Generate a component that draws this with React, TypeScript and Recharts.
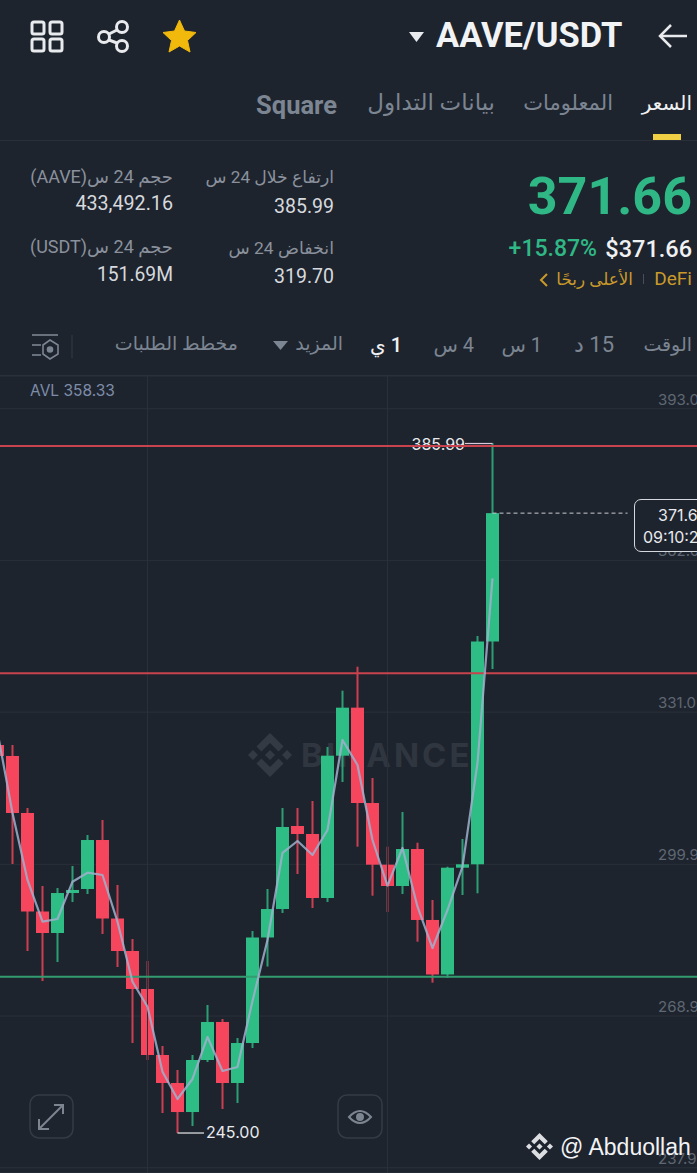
import React from "react";
import { ComposedChart, Bar, Line, XAxis, YAxis, CartesianGrid, ReferenceLine } from "recharts";

const slots = [1,2,3,4,5,6,7,8,9,10,11,12,13,14,15,16,17,18,19,20,21,22,23,24,25,26,27,28,29,30,31,32,33,34,35,36,37,38,39,40,41,42,43,44,45,46,47,48];
const opens = [324.28,322.04,310.39,290.26,285.87,294.04,294.86,304.87,288.83,282.19,274.43,260.94,255.22,249.29,259.92,267.69,255.22,263.39,284.95,290.77,307.73,306.10,293.02,322.10,331.91,312.43,299.83,295.47,303.03,288.53,277.39,299.21,299.91,345.43];
const closes = [322.04,310.39,290.26,285.87,294.04,294.66,304.87,288.83,282.19,274.43,260.94,255.22,249.29,259.92,267.69,255.22,263.39,284.95,290.77,307.53,306.10,293.02,322.10,331.91,312.43,299.83,295.47,303.03,288.53,277.39,299.21,299.91,345.43,371.66];
const highs = [325.31,324.28,311.41,295.47,295.06,299.56,305.89,308.96,295.68,284.64,280.15,262.78,257.88,260.94,271.16,268.30,264.41,286.28,294.86,311.41,311.41,312.84,323.88,335.38,340.28,317.54,303.50,310.59,304.32,292.61,299.42,305.08,346.56,385.99];
const lows = [321.22,299.97,282.19,276.06,279.94,292.20,293.84,285.67,278.92,263.39,259.92,249.09,245.00,246.43,259.51,249.91,251.13,262.37,279.02,289.96,297.93,290.98,292.20,316.72,303.50,293.49,290.16,293.84,284.09,275.72,276.68,293.63,293.98,339.81];
const avl = [326.94,310.39,296.70,288.18,288.73,296.35,298.19,297.72,288.18,275.92,270.81,257.53,251.95,256.04,264.62,257.67,258.49,271.97,284.44,302.22,304.67,301.81,306.92,325.31,320.20,304.87,295.53,303.24,291.24,282.80,290.57,299.42,320.61,358.33];
const axisTicks = [393.0,362.0,331.0,299.9,268.9,237.9];
const resistanceLevels = [385.38,338.93];
const supportLevel = 276.94;
const lastPrice = 371.66;
const dayHigh = 385.99;
const dayLow = 245.00;
const verticalSlots = [11,27];

const rows = slots.map((slot, i) => ({
  slot,
  open: i < opens.length ? opens[i] : null,
  close: i < closes.length ? closes[i] : null,
  high: i < highs.length ? highs[i] : null,
  low: i < lows.length ? lows[i] : null,
  avl: i < avl.length ? avl[i] : null,
}));

const UP = "#2ebd85";
const DOWN = "#f6465d";
const BG = "#1e242e";
const GRID = "#2a303a";

const Candle = (props: any) => {
  const { x, y, width, height, payload } = props;
  if (!payload || payload.open == null) return null;
  const { open, close, high, low } = payload;
  const span = high - low;
  const py = (v: number) => y + ((high - v) / span) * height;
  const up = close >= open;
  const color = up ? UP : DOWN;
  const top = py(Math.max(open, close));
  const bottom = py(Math.min(open, close));
  const cx = x + width / 2;
  return (
    <g>
      <rect x={cx - 1} y={y} width={2} height={height} fill={color} fillOpacity={0.8} />
      <rect x={x} y={top} width={width} height={Math.max(bottom - top, 2)} fill={color} />
      {high === dayHigh && (
        <g>
          <line x1={475} y1={y + 0.5} x2={cx} y2={y + 0.5} stroke="#d9c9dc" strokeWidth={1.2} />
          <text x={475} y={y + 7} textAnchor="end" fontFamily="Inter" fontSize={16} fill="#e8eaed">{dayHigh.toFixed(2)}</text>
        </g>
      )}
      {low === dayLow && (
        <g>
          <line x1={cx} y1={y + height} x2={214} y2={y + height} stroke="#e8eaed" strokeWidth={1.2} />
          <text x={216} y={y + height + 5} textAnchor="start" fontFamily="Inter" fontSize={16} fill="#e8eaed">{dayLow.toFixed(2)}</text>
        </g>
      )}
    </g>
  );
};

const PriceTick = (props: any) => (
  <text x={668} y={props.y - 4} fontFamily="Inter" fontSize={15} fill="#5f6773">{Number(props.payload.value).toFixed(1)}</text>
);

const Txt = ({ r, l, y, size, color, weight, rtl, font, children }: any) => (
  <div
    style={{
      position: "absolute",
      top: y - 20,
      height: 40,
      lineHeight: "40px",
      whiteSpace: "nowrap",
      fontSize: size,
      color,
      fontWeight: weight || 400,
      direction: rtl ? "rtl" : "ltr",
      fontFamily: font || "Roboto, 'DejaVu Sans', sans-serif",
      ...(r != null ? { right: 697 - r } : { left: l }),
    }}
  >
    {children}
  </div>
);

const LOGO = [
  "M38.73 53.2l24.59-24.58 24.6 24.6 14.3-14.31L63.32 0 24.42 38.9l14.31 14.3z",
  "M0 63.31l14.3-14.31 14.31 14.31-14.31 14.3z",
  "M38.73 73.41l24.59 24.59 24.6-24.6 14.31 14.29-38.9 38.91-38.91-38.88-.02-.02 14.33-14.29z",
  "M98 63.31l14.3-14.31 14.31 14.3-14.31 14.32z",
  "M77.83 63.3L63.32 48.78 52.59 59.51l-1.24 1.23-2.54 2.54 14.51 14.52 14.51-14.51z",
];

const Logo = ({ left, top, size, color }: any) => (
  <svg style={{ position: "absolute", left, top }} width={size} height={size} viewBox="0 0 126.61 126.61">
    {LOGO.map((d) => <path key={d} d={d} fill={color} />)}
  </svg>
);

const GRAY = "#7c8592";
const LABEL = "#8a919c";
const VALUE = "#d6d9dd";

export default function App() {
  return (
    <div style={{ position: "absolute", left: 0, top: 0, width: 697, height: 1173, overflow: "hidden", background: BG }}>
      {/* header icons */}
      <svg style={{ position: "absolute", left: 0, top: 0 }} width={697} height={75}>
        <g fill="none" stroke="#e8eaed" strokeWidth={3}>
          <rect x={32} y={22} width={12} height={12} rx={2} />
          <rect x={50} y={22} width={12} height={12} rx={2} />
          <rect x={32} y={39} width={12} height={12} rx={2} />
          <rect x={50} y={39} width={12} height={12} rx={2} />
          <circle cx={122} cy={27} r={5.5} />
          <circle cx={104} cy={37} r={5.5} />
          <circle cx={122} cy={46} r={5.5} />
          <line x1={109} y1={34} x2={117} y2={30} />
          <line x1={109} y1={40} x2={117} y2={43} />
        </g>
        <polygon points="179.5,20 184.5,31 196,32.5 187.5,40.5 190,52 179.5,46 169,52 171.5,40.5 163,32.5 174.5,31" fill="#f0b90b" stroke="#f0b90b" strokeLinejoin="round" />
        <polygon points="409,32 424,32 416.5,42" fill="#e8eaed" />
        <g fill="none" stroke="#e8eaed" strokeWidth={2.5}>
          <line x1={660} y1={36} x2={687} y2={36} />
          <polyline points="671,25 660,36 671,47" />
        </g>
      </svg>
      <Txt l={436} y={35} size={34.5} weight={700} color="#f2f3f5">AAVE/USDT</Txt>

      {/* tabs */}
      <Txt r={692} y={103} size={20} color="#f0f1f3" rtl>السعر</Txt>
      <Txt r={613} y={103} size={21} color={GRAY} rtl>المعلومات</Txt>
      <Txt r={495} y={103} size={23} color={GRAY} rtl>بيانات التداول</Txt>
      <Txt r={337} y={105} size={25.5} weight={700} color={GRAY}>Square</Txt>
      <div style={{ position: "absolute", left: 653, top: 134, width: 28, height: 6, background: "#f0cf45" }} />
      <div style={{ position: "absolute", left: 0, top: 140, width: 697, height: 1, background: "#2a303a" }} />

      {/* price block */}
      <Txt r={692} y={197} size={52} weight={700} color="#2fb886">371.66</Txt>
      <Txt r={692} y={249} size={23.5} weight={500} color="#f0f1f3">$371.66</Txt>
      <Txt r={597} y={249} size={23} weight={500} color="#2fb886">+15.87%</Txt>
      <Txt r={692} y={279} size={19} color="#c99a2a">DeFi</Txt>
      <div style={{ position: "absolute", left: 643, top: 274, width: 1, height: 10, background: "#4a4f57" }} />
      <Txt r={633} y={279} size={16.8} color="#c99a2a" rtl>الأعلى ربحًا</Txt>
      <svg style={{ position: "absolute", left: 538, top: 272 }} width={14} height={16}>
        <polyline points="9,2 3,8 9,14" fill="none" stroke="#c99a2a" strokeWidth={2} />
      </svg>

      {/* stats */}
      <Txt r={334} y={177} size={17.2} color={LABEL} rtl>ارتفاع خلال 24 س</Txt>
      <Txt r={334} y={207} size={19.5} color={VALUE}>385.99</Txt>
      <Txt r={334} y={248} size={17.4} color={LABEL} rtl>انخفاض 24 س</Txt>
      <Txt r={334} y={277} size={19.5} color={VALUE}>319.70</Txt>
      <Txt r={173} y={177} size={18} color={LABEL} rtl>حجم 24 س(AAVE)</Txt>
      <Txt r={173} y={204} size={19.7} color={VALUE}>433,492.16</Txt>
      <Txt r={173} y={247} size={18} color={LABEL} rtl>حجم 24 س(USDT)</Txt>
      <Txt r={173} y={275} size={19.3} color={VALUE}>151.69M</Txt>

      {/* period row */}
      <Txt r={692} y={345} size={19} color={GRAY} rtl>الوقت</Txt>
      <Txt r={614} y={345} size={22} color={GRAY} rtl>15 د</Txt>
      <Txt r={542} y={345} size={20} color={GRAY} rtl>1 س</Txt>
      <Txt r={474} y={345} size={20} color={GRAY} rtl>4 س</Txt>
      <Txt r={402} y={345} size={20} weight={500} color="#f0f1f3" rtl>1 ي</Txt>
      <Txt r={343} y={344} size={19} color={GRAY} rtl>المزيد</Txt>
      <Txt r={238} y={344} size={19} color={GRAY} rtl>مخطط الطلبات</Txt>
      <svg style={{ position: "absolute", left: 0, top: 325 }} width={300} height={45}>
        <polygon points="273,16 288,16 280.5,25" fill={GRAY} />
        <line x1={72} y1={10} x2={72} y2={33} stroke="#343a44" strokeWidth={1} />
        <g fill="none" stroke={GRAY} strokeWidth={1.6}>
          <line x1={32} y1={10} x2={58} y2={10} />
          <line x1={32} y1={20} x2={41} y2={20} />
          <line x1={32} y1={30} x2={41} y2={30} />
          <polygon points="50,15 58,20 58,29 50,34 43,29 43,20" />
          <circle cx={50} cy={24.5} r={2.5} fill={GRAY} />
        </g>
      </svg>
      <div style={{ position: "absolute", left: 0, top: 375, width: 697, height: 1, background: "#2a303a" }} />

      {/* watermark behind the candles */}
      <Logo left={248} top={733} size={44} color="#343a44" />
      <div style={{ position: "absolute", left: 301, top: 734, fontFamily: "Inter", fontWeight: 700, fontSize: 33, letterSpacing: 3, color: "#30363f", lineHeight: "42px" }}>BINANCE</div>

      <div style={{ position: "absolute", left: -10, top: 376 }}>
        <ComposedChart width={721} height={797} data={rows} margin={{ top: 0, right: 0, bottom: 0, left: 0 }}>
          <CartesianGrid vertical={false} stroke={GRID} strokeWidth={1} />
          <XAxis dataKey="slot" hide />
          <YAxis
            orientation="right"
            width={1}
            domain={[236.83, 399.68]}
            ticks={axisTicks}
            interval={0}
            allowDataOverflow
            axisLine={false}
            tickLine={false}
            tick={<PriceTick />}
          />
          {verticalSlots.map((s) => <ReferenceLine key={s} x={s} stroke={GRID} strokeWidth={1} />)}
          {resistanceLevels.map((v) => <ReferenceLine key={v} y={v} stroke="#c8434d" strokeWidth={2} />)}
          <ReferenceLine y={supportLevel} stroke="#339b70" strokeWidth={2} />
          <ReferenceLine
            segment={[{ x: 34, y: lastPrice }, { x: 43, y: lastPrice }]}
            stroke="#c9ccd1"
            strokeWidth={1}
            strokeDasharray="4 3"
          />
          <Bar dataKey={(d: any) => (d.low == null ? null : [d.low, d.high])} barSize={13} shape={<Candle />} isAnimationActive={false} />
          <Line dataKey="avl" type="linear" stroke="#9fb0cc" strokeOpacity={0.85} strokeWidth={2.2} strokeLinejoin="round" dot={false} activeDot={false} isAnimationActive={false} />
        </ComposedChart>
      </div>

      <Txt l={30} y={391} size={15.5} font="Inter" color="#7d8ca8">AVL 358.33</Txt>

      {/* last price tag */}
      <div style={{ position: "absolute", left: 634, top: 499, width: 90, height: 53, boxSizing: "border-box", border: "1px solid #d5d8dc", borderRadius: 7, background: BG, fontFamily: "Inter", fontSize: 16, color: "#e8eaed" }}>
        <div style={{ position: "absolute", left: 23, top: 5, lineHeight: "20px" }}>{lastPrice.toFixed(2)}</div>
        <div style={{ position: "absolute", left: 8, top: 27, lineHeight: "20px" }}>09:10:27</div>
      </div>

      {/* chart buttons */}
      <svg style={{ position: "absolute", left: 0, top: 1085 }} width={400} height={60}>
        <rect x={30} y={10} width={43} height={43} rx={9} fill="none" stroke="#353b45" strokeWidth={1.5} />
        <g fill="none" stroke="#7d8591" strokeWidth={2}>
          <line x1={40} y1={43} x2={62} y2={21} />
          <polyline points="54,20 63,20 63,29" />
          <polyline points="39,34 39,44 49,44" />
        </g>
        <rect x={338} y={10} width={44} height={43} rx={9} fill="none" stroke="#353b45" strokeWidth={1.5} />
        <g fill="none" stroke="#7d8591" strokeWidth={2}>
          <path d="M349 32 Q360 20 371 32 Q360 44 349 32 Z" />
          <circle cx={360} cy={32} r={3} fill="#7d8591" />
        </g>
      </svg>

      {/* author mark */}
      <Logo left={526} top={1133} size={27} color="#dcdee2" />
      <div style={{ position: "absolute", left: 560, top: 1132, fontFamily: "'Liberation Sans'", fontSize: 23, color: "#f2f3f5", lineHeight: "30px", whiteSpace: "nowrap" }}>@ Abduollah</div>
    </div>
  );
}
